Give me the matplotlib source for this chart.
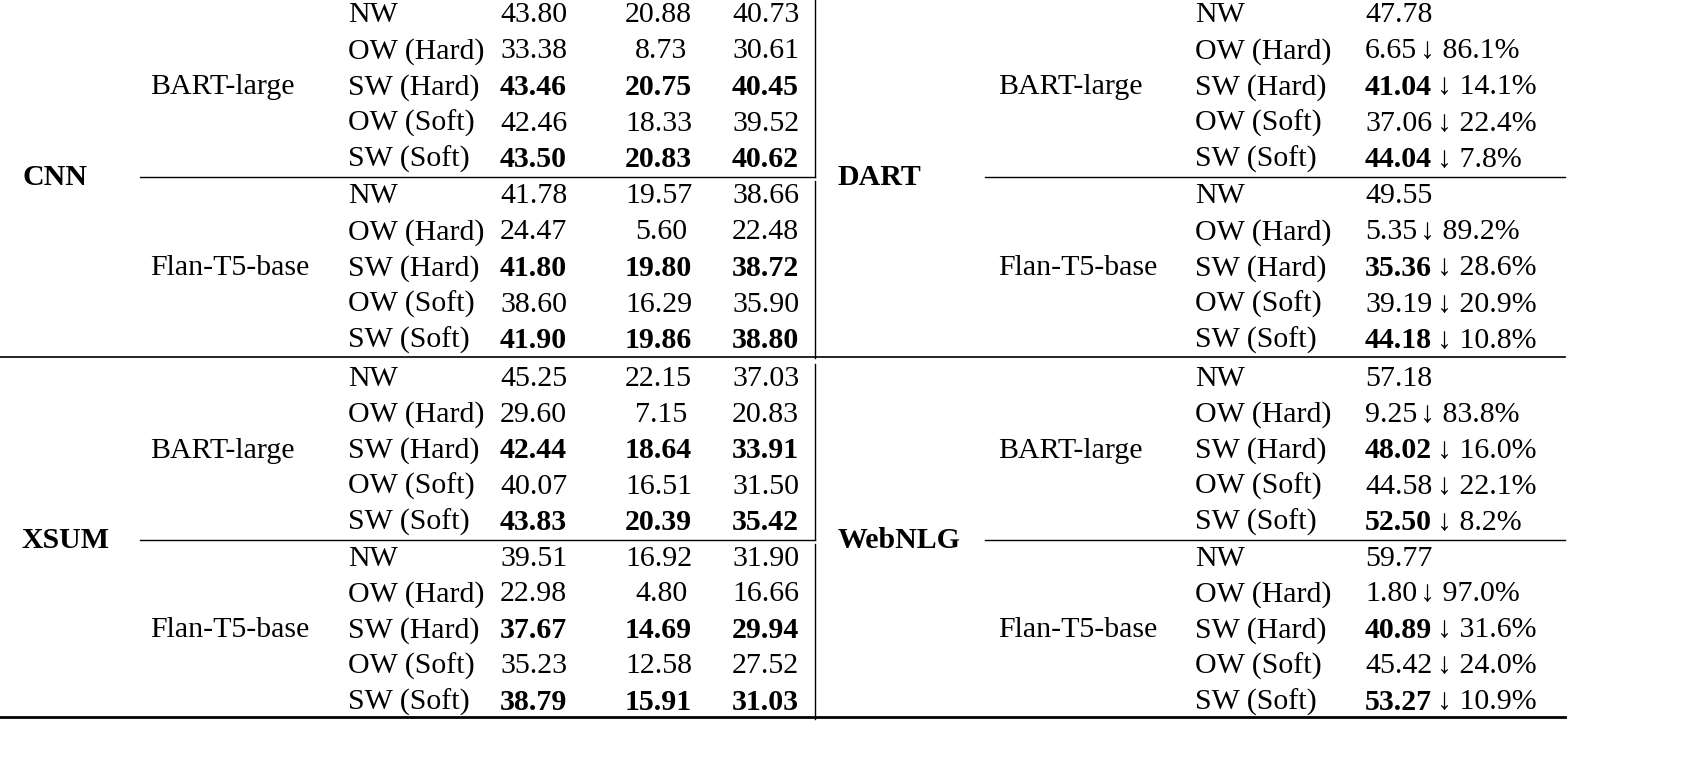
import matplotlib.pyplot as plt

plt.rcParams['font.family'] = ['Liberation Serif', 'DejaVu Serif']

settings = ["NW", "OW (Hard)", "SW (Hard)", "OW (Soft)", "SW (Soft)"]
models = ["BART-large", "Flan-T5-base"]
bold_rows = [2, 4]

# summarisation: dataset -> model -> rows of (R1, R2, RL)
cnn_bart = [[43.80, 20.88, 40.73], [33.38, 8.73, 30.61], [43.46, 20.75, 40.45],
            [42.46, 18.33, 39.52], [43.50, 20.83, 40.62]]
cnn_flan = [[41.78, 19.57, 38.66], [24.47, 5.60, 22.48], [41.80, 19.80, 38.72],
            [38.60, 16.29, 35.90], [41.90, 19.86, 38.80]]
xsum_bart = [[45.25, 22.15, 37.03], [29.60, 7.15, 20.83], [42.44, 18.64, 33.91],
             [40.07, 16.51, 31.50], [43.83, 20.39, 35.42]]
xsum_flan = [[39.51, 16.92, 31.90], [22.98, 4.80, 16.66], [37.67, 14.69, 29.94],
             [35.23, 12.58, 27.52], [38.79, 15.91, 31.03]]

# data-to-text: value and drop in percent
dart_bart = [47.78, 6.65, 41.04, 37.06, 44.04]
dart_bart_drop = [None, 86.1, 14.1, 22.4, 7.8]
dart_flan = [49.55, 5.35, 35.36, 39.19, 44.18]
dart_flan_drop = [None, 89.2, 28.6, 20.9, 10.8]
web_bart = [57.18, 9.25, 48.02, 44.58, 52.50]
web_bart_drop = [None, 83.8, 16.0, 22.1, 8.2]
web_flan = [59.77, 1.80, 40.89, 45.42, 53.27]
web_flan_drop = [None, 97.0, 31.6, 24.0, 10.9]

fig = plt.figure(figsize=(16.97, 7.83), dpi=100)
ax = fig.add_axes([0, 0, 1, 1])
ax.set_xlim(0, 1697)
ax.set_ylim(783, 0)
ax.axis('off')
fs = 21.5

def left_block(y0, step, name, blocks):
    for b, (model, rows) in enumerate(zip(models, blocks)):
        ys = [y0 + (5 * b + i) * step for i in range(5)]
        ax.text(150, (ys[0] + ys[-1]) / 2, model, fontsize=fs, va='center')
        for i, (s, r) in enumerate(zip(settings, rows)):
            w = 'bold' if i in bold_rows else 'normal'
            ax.text(348, ys[i], s, fontsize=fs, va='center')
            for x, v in zip([500, 625, 732], r):
                txt = f"{v:.2f}"
                if len(txt) == 4:
                    x += 10
                ax.text(x, ys[i], txt, fontsize=fs, va='center', weight=w)
        ax.plot([815, 815], [ys[0] - 15, ys[-1] + 17], color='k', lw=1)
    ax.text(22, y0 + 4.5 * step, name, fontsize=fs, va='center', weight='bold')

def right_block(y0, step, name, blocks):
    for b, (model, (vals, drops)) in enumerate(zip(models, blocks)):
        ys = [y0 + (5 * b + i) * step for i in range(5)]
        ax.text(998, (ys[0] + ys[-1]) / 2, model, fontsize=fs, va='center')
        for i, (s, v, d) in enumerate(zip(settings, vals, drops)):
            w = 'bold' if i in bold_rows else 'normal'
            ax.text(1195, ys[i], s, fontsize=fs, va='center')
            txt = f"{v:.2f}"
            ax.text(1365, ys[i], txt, fontsize=fs, va='center', weight=w)
            if d is not None:
                xa = 1420 if len(txt) == 4 else 1437
                ax.text(xa, ys[i], f"↓ {d:.1f}%", fontsize=fs, va='center')
    ax.text(838, y0 + 4.5 * step, name, fontsize=fs, va='center', weight='bold')

left_block(15, 36.2, "CNN", [cnn_bart, cnn_flan])
right_block(15, 36.2, "DART", [(dart_bart, dart_bart_drop), (dart_flan, dart_flan_drop)])
left_block(379, 35.9, "XSUM", [xsum_bart, xsum_flan])
right_block(379, 35.9, "WebNLG", [(web_bart, web_bart_drop), (web_flan, web_flan_drop)])

for y in [177, 540]:
    ax.plot([140, 815], [y, y], color='k', lw=1)
    ax.plot([985, 1565], [y, y], color='k', lw=1)
ax.plot([0, 1565], [357, 357], color='k', lw=1.2)
ax.plot([0, 1565], [717, 717], color='k', lw=2)

fig.savefig("out.png", dpi=100)
